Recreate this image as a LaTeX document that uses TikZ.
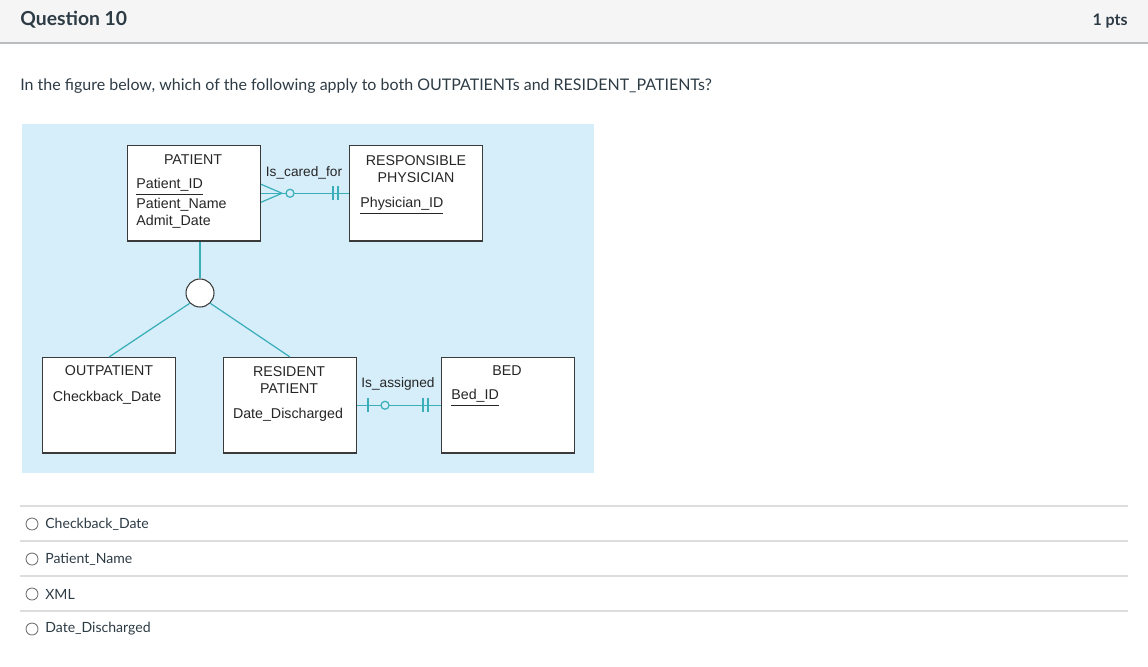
\documentclass[tikz,border=0pt]{standalone}
\usepackage{fontspec}
\setmainfont{Lato}
\newfontfamily\diagfont{Liberation Sans}
\usetikzlibrary{calc}
\definecolor{headbg}{HTML}{F5F5F5}
\definecolor{headrule}{HTML}{B9BDC0}
\definecolor{pagetext}{HTML}{2D3B45}
\definecolor{diagbg}{HTML}{D6EEFA}
\definecolor{erline}{HTML}{3AAFB9}
\definecolor{boxline}{HTML}{3A3A3A}
\definecolor{rulegray}{HTML}{DDDDDD}
\tikzset{
  entity box/.style={
    draw=boxline,
    fill=white,
    line width=0.6pt,
    anchor=north west,
    minimum width=2.66cm,
    minimum height=1.91cm,
    inner sep=0pt,
  },
  er text/.style={
    font=\diagfont\fontsize{8.1}{9.4}\selectfont,
    text=black!85,
    inner sep=0pt,
  },
  er label/.style={
    font=\diagfont\fontsize{7.8}{9}\selectfont,
    text=black!85,
    inner sep=0pt,
  },
  er link/.style={
    draw=erline,
    line width=0.7pt,
  },
  option text/.style={
    anchor=west,
    text=pagetext,
    font=\fontsize{8}{10}\selectfont,
    inner sep=0pt,
  },
  radio/.style={
    circle,
    draw=black!55,
    line width=0.5pt,
    minimum size=0.24cm,
    inner sep=0pt,
  }
}

\begin{document}
\begin{tikzpicture}[x=0.02cm, y=-0.02cm]
        \useasboundingbox (0,0) rectangle (1148,666);
        % page header
        \fill[headbg] (0,0) rectangle (1148,43);
        \draw[headrule, line width=1pt] (0,43) -- (1148,43);
        \node [anchor=west, inner sep=0pt, text=pagetext, font=\bfseries\fontsize{11}{13}\selectfont] (qtitle) at (20,20) {Question 10};
        \node [anchor=east, inner sep=0pt, text=pagetext, font=\bfseries\fontsize{9.1}{11}\selectfont] (qpts) at (1128,21) {1 pts};
        \node [anchor=west, inner sep=0pt, text=pagetext, font=\fontsize{9.1}{11}\selectfont] (qtext) at (20,86)
          {In the figure below, which of the following apply to both OUTPATIENTs and RESIDENT\_PATIENTs?};

        % diagram
        \fill[diagbg] (22,124) rectangle (594,473);

        \node [entity box] (patient) at (127,145) {};
        \node [entity box] (physician) at (349,145) {};
        \node [entity box] (outpatient) at (42,357) {};
        \node [entity box] (resident) at (223,357) {};
        \node [entity box] (bed) at (441,357) {};
        \node [circle, draw=boxline, fill=white, line width=0.6pt, minimum size=0.56cm, inner sep=0pt] (subtype) at (200,293) {};

        \node [er text] (patientName) at (193,160) {PATIENT};
        \node [er text, anchor=west] (patientKey) at (136,187) {\underline{Patient\_ID}};
        \node [er text, anchor=west] (patientAttrA) at (136,205) {Patient\_Name};
        \node [er text, anchor=west] (patientAttrB) at (136,222) {Admit\_Date};

        \node [er text, align=center] (physicianName) at (416,169) {RESPONSIBLE\\PHYSICIAN};
        \node [er text, anchor=west] (physicianKey) at (360,206) {\underline{Physician\_ID}};

        \node [er text] (outpatientName) at (109,371) {OUTPATIENT};
        \node [er text] (outpatientAttr) at (107,398) {Checkback\_Date};

        \node [er text, align=center] (residentName) at (289,380) {RESIDENT\\PATIENT};
        \node [er text] (residentAttr) at (288,415) {Date\_Discharged};

        \node [er text] (bedName) at (507,371) {BED};
        \node [er text, anchor=west] (bedKey) at (451,398) {\underline{Bed\_ID}};

        % supertype / subtype
        \draw [er link] (subtype.north) -- (subtype.north |- patient.south);
        \draw [er link] (subtype.south west) -- (outpatient.north);
        \draw [er link] (subtype.south east) -- (resident.north);

        % Is_cared_for
        \node [er label] (caredLabel) at (304,173) {Is\_cared\_for};
        \draw [er link] (patient.east) -- (physician.west);
        \draw [er link] ($(patient.east)+(0,-9)$) -- ($(patient.east)+(21,0)$) -- ($(patient.east)+(0,9)$);
        \draw [er link, fill=diagbg] ($(patient.east)+(29,0)$) circle (0.08cm);
        \draw [er link] ($(physician.west)+(-16,-7)$) -- ($(physician.west)+(-16,7)$);
        \draw [er link] ($(physician.west)+(-11,-7)$) -- ($(physician.west)+(-11,7)$);

        % Is_assigned
        \node [er label] (assignedLabel) at (398,384) {Is\_assigned};
        \draw [er link] (resident.east) -- (bed.west);
        \draw [er link] ($(resident.east)+(11,-7)$) -- ($(resident.east)+(11,7)$);
        \draw [er link, fill=diagbg] ($(resident.east)+(28,0)$) circle (0.08cm);
        \draw [er link] ($(bed.west)+(-18,-7)$) -- ($(bed.west)+(-18,7)$);
        \draw [er link] ($(bed.west)+(-13,-7)$) -- ($(bed.west)+(-13,7)$);

        % answer options
        \foreach \y in {506,541,576,611}
          \draw [rulegray, line width=0.6pt] (20,\y) -- (1128,\y);
        \node [radio] (radioA) at (32,524) {};
        \node [radio] (radioB) at (32,559) {};
        \node [radio] (radioC) at (32,594) {};
        \node [radio] (radioD) at (32,629) {};
        \node [option text] (optA) at (45,524) {Checkback\_Date};
        \node [option text] (optB) at (45,559) {Patient\_Name};
        \node [option text] (optC) at (45,594) {XML};
        \node [option text] (optD) at (45,629) {Date\_Discharged};
      \end{tikzpicture}
\end{document}
